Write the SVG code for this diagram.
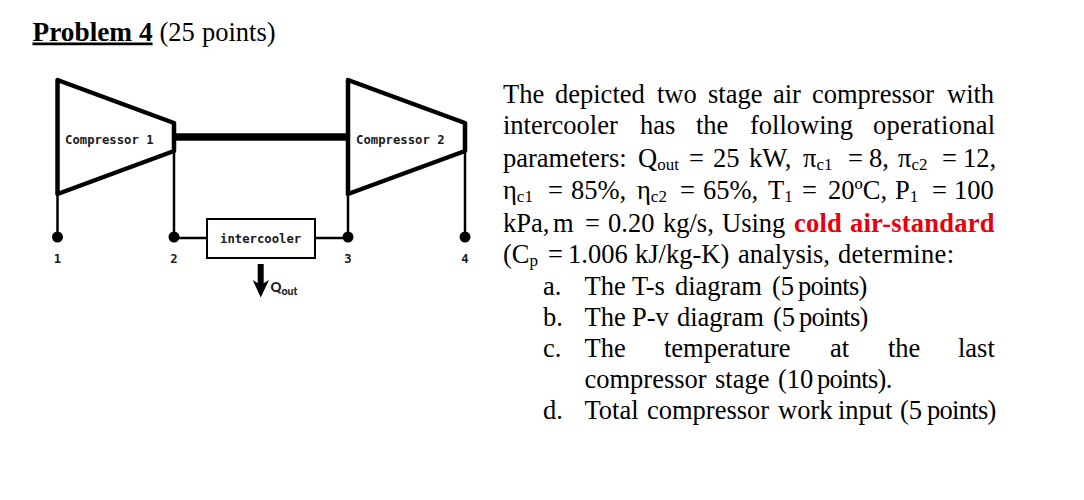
<svg xmlns="http://www.w3.org/2000/svg" width="1084" height="500" viewBox="0 0 1084 500">
<style>
.t{font-family:"Liberation Serif","Times New Roman",serif;font-size:26.5px;fill:#000}
.s{font-size:17px}
.r{font-weight:bold;fill:#e8000d;letter-spacing:.25px}
.p{letter-spacing:-.7px}
.w{letter-spacing:.3px}
.m{font-family:"DejaVu Sans Mono",monospace;font-size:12.25px;font-weight:bold;fill:#1a1a1a}
.q{font-family:Lato,sans-serif;font-weight:900;fill:#1a1a1a;font-size:13.5px}
.b{fill:#fff;stroke:#000;stroke-width:4.5;stroke-linejoin:round}
.l{stroke:#000;stroke-width:2.5;fill:none}
</style>
<rect width="1084" height="500" fill="#fff"/>
<g id="connectors">
<path d="M174 137H348" stroke="#000" stroke-width="7.5" fill="none"/>
<path class="l" d="M57.500 194V237M174 151V238H207M315 238H348M348 194V237M465 151V237"/>
<path d="M260.700 264V288" stroke="#000" stroke-width="6" fill="none"/>
<path d="M252.700 280L260.700 297.500L269 280L260.700 285Z" fill="#000"/>
</g>
<g id="compressor1"><path class="b" d="M57.500 80L174 123V151L57.500 194Z"/><text class="m" x="65" y="144">Compressor 1</text></g>
<g id="compressor2"><path class="b" d="M348 80L465 123V151L348 194Z"/><text class="m" x="356" y="144">Compressor 2</text></g>
<g id="intercooler"><rect x="207" y="219" width="108" height="39" fill="#fff" stroke="#000" stroke-width="2"/><text class="m" x="220" y="243">intercooler</text></g>
<g id="n1"><circle cx="57.500" cy="237" r="5.500"/><text class="m" x="57.500" y="263" text-anchor="middle">1</text></g>
<g id="n2"><circle cx="174" cy="237" r="5.500"/><text class="m" x="174" y="263" text-anchor="middle">2</text></g>
<g id="n3"><circle cx="348" cy="237" r="5.500"/><text class="m" x="348" y="263" text-anchor="middle">3</text></g>
<g id="n4"><circle cx="465" cy="237" r="5.500"/><text class="m" x="465" y="263" text-anchor="middle">4</text></g>
<g id="qout"><text class="q" x="270.500" y="292">Q<tspan font-size="10.500" dy="3">out</tspan></text></g>
<g id="title"><text class="t" y="40.500"><tspan x="32.500" font-size="27.300" font-weight="bold" text-decoration="underline">Problem 4</tspan><tspan x="159.500">(25</tspan><tspan x="202">points)</tspan></text></g>
<g id="problem">
<text class="t" y="103"><tspan x="503">The</tspan><tspan x="555">depicted</tspan><tspan x="657">two</tspan><tspan x="708">stage</tspan><tspan x="773">air</tspan><tspan x="812">compressor</tspan><tspan x="947">with</tspan></text>
<text class="t" y="134"><tspan x="503">intercooler</tspan><tspan x="640">has</tspan><tspan x="696">the</tspan><tspan x="750">following</tspan><tspan x="873" class="w">operational</tspan></text>
<text class="t" y="166.500"><tspan x="503">parameters:</tspan><tspan x="638">Q<tspan class="s" dy="3">out</tspan></tspan><tspan x="689" dy="-3">=</tspan><tspan x="713">25</tspan><tspan x="749">kW,</tspan><tspan x="803">π<tspan class="s" dy="3">c1</tspan></tspan><tspan x="848" dy="-3">=</tspan><tspan x="869">8,</tspan><tspan x="898">π<tspan class="s" dy="3">c2</tspan></tspan><tspan x="942" dy="-3">=</tspan><tspan x="963">12,</tspan></text>
<text class="t" y="199"><tspan x="503">η<tspan class="s" dy="3">c1</tspan></tspan><tspan x="548" dy="-3">=</tspan><tspan x="571">85%,</tspan><tspan x="637">η<tspan class="s" dy="3">c2</tspan></tspan><tspan x="680" dy="-3">=</tspan><tspan x="703">65%,</tspan><tspan x="768">T<tspan class="s" dy="3">1</tspan></tspan><tspan x="802" dy="-3">=</tspan><tspan x="828">20ºC,</tspan><tspan x="895">P<tspan class="s" dy="3">1</tspan></tspan><tspan x="932" dy="-3">=</tspan><tspan x="954">100</tspan></text>
<text class="t" y="231.500"><tspan x="503">kPa,</tspan><tspan x="553">m</tspan><tspan x="585">=</tspan><tspan x="608">0.20</tspan><tspan x="663">kg/s,</tspan><tspan x="722">Using</tspan><tspan x="794" class="r">cold</tspan><tspan x="850" class="r">air-standard</tspan></text>
<text class="t" y="263"><tspan x="503">(C<tspan class="s" dy="3">p</tspan></tspan><tspan x="548" dy="-3">=</tspan><tspan x="568">1.006</tspan><tspan x="635">kJ/kg-K)</tspan><tspan x="738">analysis,</tspan><tspan x="838" class="w">determine:</tspan></text>
<text class="t" y="295"><tspan x="543">a.</tspan><tspan x="584.500">The</tspan><tspan x="632">T-s</tspan><tspan x="675">diagram</tspan><tspan x="772">(5</tspan><tspan x="798" class="p">points)</tspan></text>
<text class="t" y="326"><tspan x="543">b.</tspan><tspan x="584.500">The</tspan><tspan x="632">P-v</tspan><tspan x="677">diagram</tspan><tspan x="773">(5</tspan><tspan x="799" class="p">points)</tspan></text>
<text class="t" y="357"><tspan x="543">c.</tspan><tspan x="584.500">The</tspan><tspan x="664">temperature</tspan><tspan x="830">at</tspan><tspan x="888">the</tspan><tspan x="958">last</tspan></text>
<text class="t" y="388"><tspan x="584.500">compressor</tspan><tspan x="715">stage</tspan><tspan x="778">(10</tspan><tspan x="817" class="p">points).</tspan></text>
<text class="t" y="419"><tspan x="543">d.</tspan><tspan x="584.500">Total</tspan><tspan x="647">compressor</tspan><tspan x="778">work</tspan><tspan x="838">input</tspan><tspan x="900">(5</tspan><tspan x="927" class="p">points)</tspan></text>
</g>
</svg>
